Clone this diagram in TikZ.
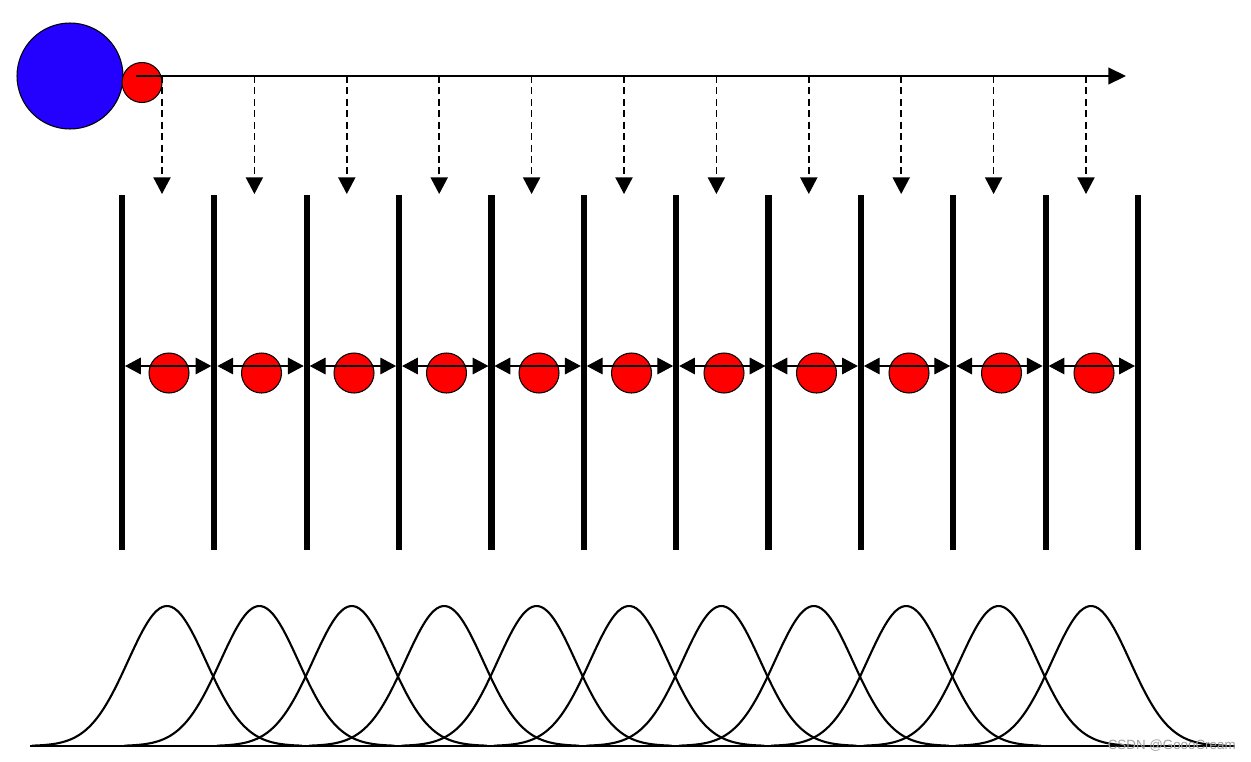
\documentclass[tikz,border=0pt]{standalone}
\usepackage{fontspec}
\setmainfont{Liberation Sans}
\usetikzlibrary{arrows.meta}
\definecolor{sunblue}{RGB}{36,0,255}
\definecolor{ballred}{RGB}{255,0,0}
\begin{document}
\begin{tikzpicture}[x=0.02cm,y=-0.02cm,
  sun/.style={circle,draw=black,line width=0.6pt,fill=sunblue,minimum size=2.12cm,inner sep=0pt},
  ball/.style={circle,draw=black,line width=0.6pt,fill=ballred,minimum size=0.8cm,inner sep=0pt},
  axisline/.style={line width=0.9pt,-{Triangle[length=10pt,width=9.5pt]}},
  drop/.style={line width=0.85pt,dash pattern=on 4pt off 2.5pt,-{Triangle[length=9.5pt,width=9.8pt]}},
  bar/.style={line width=3.5pt,line cap=butt},
  dbl/.style={line width=0.6pt,{Triangle[length=9pt,width=9.5pt]}-{Triangle[length=9pt,width=9.5pt]}},
  bell/.style={line width=1.2pt},
  groundline/.style={line width=1.3pt},
  wmark/.style={text=gray!75,font=\fontsize{7.6}{9}\selectfont,inner sep=0pt}
]
\useasboundingbox (0,0) rectangle (1251,761);
% top: sun, planet, axis
\node[sun] (sun) at (70,76) {};
\node[ball] (planet) at (142,82.5) {};
\coordinate (a0) at (136,76);
\coordinate (a1) at (1126,76);
\draw[axisline] (a0) -- (a1);
% dashed drops
\foreach \i in {0,...,10}{
  \coordinate (d\i) at ({162+92.4*\i},76);
  \coordinate (e\i) at ({162+92.4*\i},194);
  \draw[drop] (d\i) -- (e\i);
}
% bars
\foreach \i in {0,...,11}{
  \coordinate (bt\i) at ({122+92.36*\i},195);
  \coordinate (bb\i) at ({122+92.36*\i},550);
  \draw[bar] (bt\i) -- (bb\i);
}
% circles and double arrows
\foreach \i in {0,...,10}{
  \node[ball] (c\i) at ({169+92.5*\i},373) {};
  \coordinate (l\i) at ({125+92.36*\i},366);
  \coordinate (r\i) at ({119+92.36*(\i+1)},366);
  \draw[dbl] (l\i) -- (r\i);
}
% gaussians
\coordinate (g0) at (30,746);
\coordinate (g1) at (1235,746);
\draw[groundline] (g0) -- (g1);
\foreach \i in {0,...,10}{
  \pgfmathsetmacro\mm{167+92.4*\i}
  \pgfmathsetmacro\lo{\mm-135}
  \pgfmathsetmacro\hi{\mm+135}
  \draw[bell] plot[domain=\lo:\hi,samples=90,smooth] (\x,{746-140*exp(-0.5*((\x-\mm)/39)^2)});
}
\node[wmark,anchor=east] (wm) at (1236,746) {CSDN @GoooCream};
\end{tikzpicture}
\end{document}
